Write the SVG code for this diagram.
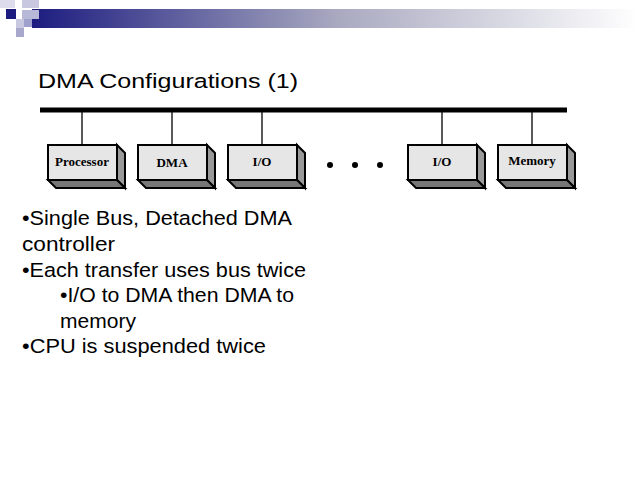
<svg xmlns="http://www.w3.org/2000/svg" width="638" height="478" viewBox="0 0 638 478">
<defs>
<linearGradient id="g" x1="0" x2="1" y1="0" y2="0"><stop offset="0" stop-color="#1c1c80"/><stop offset="0.5" stop-color="#a8a8c0"/><stop offset="1" stop-color="#ffffff"/></linearGradient>
</defs>
<style>
.f{fill:#e6e6e6;stroke:#000;stroke-width:2}
.s{fill:#999;stroke:#000;stroke-width:2}
.b{fill:#777;stroke:#000;stroke-width:2}
.l{font-family:"Liberation Serif",serif;font-weight:bold;font-size:13px;text-anchor:middle}
.t{font-family:"Liberation Sans",Arial,sans-serif;font-size:20.5px}
</style>
<rect width="638" height="478" fill="#fff"/>
<rect x="32" y="9" width="606" height="19" fill="url(#g)"/>
<rect x="0" y="0" width="15" height="8" fill="#dcdcec"/>
<rect x="22" y="0" width="17" height="8" fill="#c8c8e0"/>
<rect x="6" y="9" width="10" height="10" fill="#1c1c80"/>
<rect x="22" y="10" width="17" height="9" fill="#b8b8d8"/>
<rect x="16" y="19" width="8" height="9" fill="#c8c8e0"/>
<rect x="24" y="19" width="8" height="8" fill="#a0a0cc"/>
<rect x="16" y="28" width="8" height="9" fill="#a8a8cc"/>
<text x="38" y="88" class="t" font-size="23" textLength="260" lengthAdjust="spacingAndGlyphs">DMA Configurations (1)</text>
<g id="connectors" stroke="#000">
<line x1="40" y1="110" x2="567" y2="110" stroke-width="5"/>
<line x1="82" y1="110" x2="82" y2="145" stroke-width="1.3"/>
<line x1="172" y1="110" x2="172" y2="145" stroke-width="1.3"/>
<line x1="262" y1="110" x2="262" y2="145" stroke-width="1.3"/>
<line x1="442" y1="110" x2="442" y2="145" stroke-width="1.3"/>
<line x1="532" y1="110" x2="532" y2="145" stroke-width="1.3"/>
</g>
<g id="processor"><polygon class="s" points="117,145 125,153 125,188 117,180"/><polygon class="b" points="48,180 117,180 125,188 56,188"/><rect class="f" x="48" y="145" width="69" height="35"/><text class="l" x="82" y="166">Processor</text></g>
<g id="dma"><polygon class="s" points="207,145 215,153 215,188 207,180"/><polygon class="b" points="138,180 207,180 215,188 146,188"/><rect class="f" x="138" y="145" width="69" height="35"/><text class="l" x="172" y="167">DMA</text></g>
<g id="io1"><polygon class="s" points="297,145 305,153 305,188 297,180"/><polygon class="b" points="228,180 297,180 305,188 236,188"/><rect class="f" x="228" y="145" width="69" height="35"/><text class="l" x="262" y="166">I/O</text></g>
<g id="dots" fill="#000"><circle cx="330" cy="165" r="3"/><circle cx="355" cy="165" r="3"/><circle cx="380" cy="165" r="3"/></g>
<g id="io2"><polygon class="s" points="477,145 485,153 485,188 477,180"/><polygon class="b" points="408,180 477,180 485,188 416,188"/><rect class="f" x="408" y="145" width="69" height="35"/><text class="l" x="442" y="166">I/O</text></g>
<g id="memory"><polygon class="s" points="567,145 575,153 575,188 567,180"/><polygon class="b" points="498,180 567,180 575,188 506,188"/><rect class="f" x="498" y="145" width="69" height="35"/><text class="l" x="532" y="165">Memory</text></g>
<g class="t" lengthAdjust="spacingAndGlyphs">
<text x="22" y="225" textLength="270" lengthAdjust="spacingAndGlyphs">•Single Bus, Detached DMA</text>
<text x="22" y="251" textLength="93" lengthAdjust="spacingAndGlyphs">controller</text>
<text x="22" y="277" textLength="284" lengthAdjust="spacingAndGlyphs">•Each transfer uses bus twice</text>
<text x="60" y="302" font-size="20" textLength="234" lengthAdjust="spacingAndGlyphs">•I/O to DMA then DMA to</text>
<text x="60" y="328" font-size="20" textLength="76" lengthAdjust="spacingAndGlyphs">memory</text>
<text x="22" y="353" textLength="244" lengthAdjust="spacingAndGlyphs">•CPU is suspended twice</text>
</g>
</svg>
